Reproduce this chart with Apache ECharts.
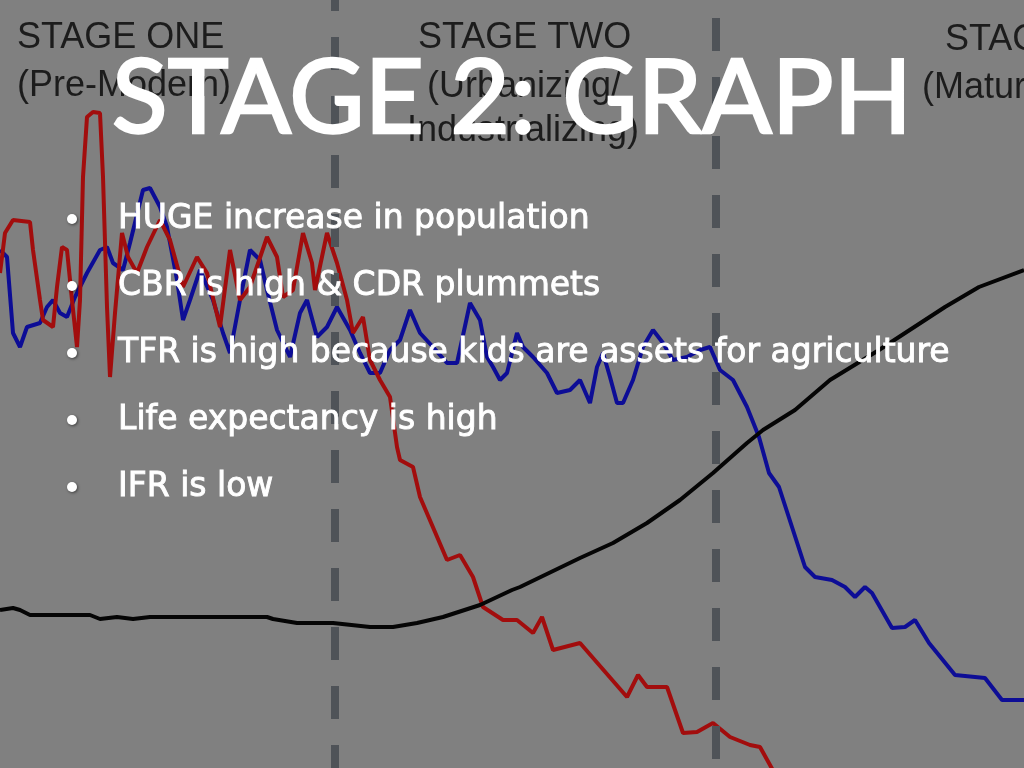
<!DOCTYPE html>
<html>
<head>
<meta charset="utf-8">
<script src="https://cdn.jsdelivr.net/npm/echarts@6/dist/echarts.min.js"></script>
<style>
  html, body { margin: 0; padding: 0; background: #808080; }
  #chart { width: 1024px; height: 768px; }
</style>
</head>
<body>
<div id="chart"></div>
<script>
// birth rate (blue)
var cbrX = [0, 7, 13, 20, 27, 40, 47, 53, 60, 67, 75, 87, 100, 107, 113, 123, 130, 143, 150, 160, 167, 177, 183, 190, 200, 213, 223, 230, 240, 250, 260, 267, 277, 290, 300, 307, 317, 327, 337, 350, 360, 370, 380, 390, 400, 410, 420, 433, 447, 457, 470, 480, 487, 493, 500, 507, 517, 523, 533, 547, 557, 570, 580, 590, 597, 603, 610, 617, 623, 633, 643, 653, 663, 673, 687, 700, 710, 720, 733, 747, 759, 769, 779, 792, 805, 815, 832, 845, 855, 865, 872, 892, 905, 915, 929, 955, 985, 1002, 1024];
var cbrY = [518, 511, 435, 421, 441, 445, 461, 468, 455, 451, 471, 495, 518, 521, 505, 498, 525, 578, 580, 561, 541, 488, 448, 468, 498, 468, 435, 415, 468, 518, 508, 478, 438, 411, 455, 468, 431, 441, 461, 438, 415, 395, 395, 418, 428, 458, 435, 421, 405, 405, 465, 448, 411, 401, 388, 395, 435, 421, 411, 395, 375, 378, 388, 365, 401, 415, 391, 365, 365, 388, 421, 438, 425, 408, 411, 418, 421, 398, 388, 361, 331, 295, 281, 241, 201, 191, 188, 181, 171, 181, 175, 140, 141, 148, 125, 93, 90, 68, 68];

// death rate (red)
var cdrX = [0, 5, 13, 30, 33, 40, 43, 53, 57, 62, 67, 72, 77, 80, 83, 87, 93, 100, 103, 107, 110, 115, 122, 128, 137, 147, 160, 170, 183, 197, 207, 220, 230, 240, 250, 267, 277, 283, 293, 303, 312, 315, 327, 337, 347, 353, 363, 370, 380, 390, 397, 400, 413, 420, 447, 460, 473, 483, 503, 517, 533, 542, 553, 580, 627, 638, 647, 667, 683, 697, 713, 730, 750, 760, 775];
var cdrY = [495, 535, 548, 546, 518, 468, 448, 441, 481, 521, 518, 468, 421, 468, 591, 651, 656, 655, 591, 461, 391, 455, 535, 511, 495, 521, 548, 528, 481, 511, 495, 441, 518, 468, 481, 531, 511, 471, 478, 535, 505, 478, 535, 505, 468, 435, 451, 408, 388, 371, 321, 308, 301, 271, 208, 213, 191, 161, 148, 148, 135, 151, 118, 125, 71, 93, 81, 81, 35, 36, 45, 31, 23, 21, -6];

// total population (black)
var popX = [0, 13, 20, 30, 90, 100, 117, 133, 150, 237, 267, 273, 297, 333, 370, 393, 417, 443, 480, 512, 520, 580, 613, 647, 680, 713, 747, 763, 795, 830, 879, 945, 979, 1024];
var popY = [158, 160, 158, 153, 153, 149, 151, 149, 151, 151, 151, 149, 145, 145, 141, 141, 145, 151, 163, 178, 181, 210, 225, 245, 268, 295, 325, 338, 358, 388, 418, 461, 481, 498];

// stage boundaries
var stageBounds = [335, 716];
var stageDashOffsets = [22, 41];

var title = 'STAGE 2: GRAPH';
var bullets = [
  'HUGE increase in population',
  'CBR is high & CDR plummets',
  'TFR is high because kids are assets for agriculture',
  'Life expectancy is high',
  'IFR is low'
];

function pairs(xs, ys) {
  return xs.map(function (x, i) { return [x, ys[i]]; });
}

var labelFont = '36px "Liberation Sans", Arial, sans-serif';
var labelColor = '#1c1c1c';

var graphic = [
  { type: 'text', z: 50, style: { text: 'STAGE ONE', x: 17, y: 38, font: labelFont, fill: labelColor, verticalAlign: 'middle' } },
  { type: 'text', z: 50, style: { text: '(Pre-Modern)', x: 17, y: 86, font: labelFont, fill: labelColor, verticalAlign: 'middle' } },
  { type: 'text', z: 50, style: { text: 'STAGE TWO', x: 418, y: 38, font: labelFont, fill: labelColor, verticalAlign: 'middle' } },
  { type: 'text', z: 50, style: { text: '(Urbanizing/', x: 427, y: 87, font: labelFont, fill: labelColor, verticalAlign: 'middle' } },
  { type: 'text', z: 50, style: { text: 'Industrializing)', x: 407, y: 131, font: labelFont, fill: labelColor, verticalAlign: 'middle' } },
  { type: 'text', z: 50, style: { text: 'STAGE THREE', x: 945, y: 40, font: labelFont, fill: labelColor, verticalAlign: 'middle' } },
  { type: 'text', z: 50, style: { text: '(Mature Industrial)', x: 922, y: 88, font: labelFont, fill: labelColor, verticalAlign: 'middle' } },
  {
    type: 'text', z: 100,
    style: {
      text: title, x: 512, y: 100, align: 'center', verticalAlign: 'middle',
      font: '103px Lato, "Open Sans", sans-serif', fill: '#ffffff',
      stroke: '#ffffff', lineWidth: 2.5,
      shadowColor: 'rgba(0,0,0,0.6)', shadowBlur: 7, shadowOffsetX: 2, shadowOffsetY: 3
    }
  }
];

var bulletY = [219, 286, 353, 420, 487];
bullets.forEach(function (t, i) {
  graphic.push({
    type: 'circle', z: 100,
    shape: { cx: 72, cy: bulletY[i], r: 5 },
    style: { fill: '#ffffff', shadowColor: 'rgba(0,0,0,0.5)', shadowBlur: 3, shadowOffsetX: 1, shadowOffsetY: 1 }
  });
  graphic.push({
    type: 'text', z: 100,
    style: {
      text: t, x: 118, y: bulletY[i], verticalAlign: 'middle',
      font: '33px "DejaVu Sans", sans-serif', fill: '#ffffff',
      stroke: '#ffffff', lineWidth: 0.9,
      shadowColor: 'rgba(0,0,0,0.55)', shadowBlur: 3, shadowOffsetX: 1, shadowOffsetY: 2
    }
  });
});

var option = {
  backgroundColor: '#808080',
  animation: false,
  grid: { left: 0, right: 0, top: 0, bottom: 0 },
  xAxis: { type: 'value', min: 0, max: 1024, show: false },
  yAxis: { type: 'value', min: 0, max: 768, show: false },
  series: [
    {
      type: 'line',
      data: [],
      markLine: {
        silent: true,
        symbol: 'none',
        label: { show: false },
        lineStyle: { color: '#4f5358', width: 8, type: [33, 26] },
        data: stageBounds.map(function (b, i) {
          return [
            { coord: [b, 768], lineStyle: { color: '#4f5358', width: 8, type: [33, 26], dashOffset: stageDashOffsets[i] } },
            { coord: [b, 0] }
          ];
        })
      }
    },
    {
      name: 'CBR', type: 'line', data: pairs(cbrX, cbrY),
      showSymbol: false, lineStyle: { color: '#0d0d96', width: 4 }
    },
    {
      name: 'CDR', type: 'line', data: pairs(cdrX, cdrY),
      showSymbol: false, lineStyle: { color: '#a20d0d', width: 4 }
    },
    {
      name: 'Population', type: 'line', data: pairs(popX, popY),
      showSymbol: false, lineStyle: { color: '#050505', width: 4 }
    }
  ],
  graphic: graphic
};

var chart = echarts.init(document.getElementById('chart'));
chart.setOption(option);
</script>
</body>
</html>
